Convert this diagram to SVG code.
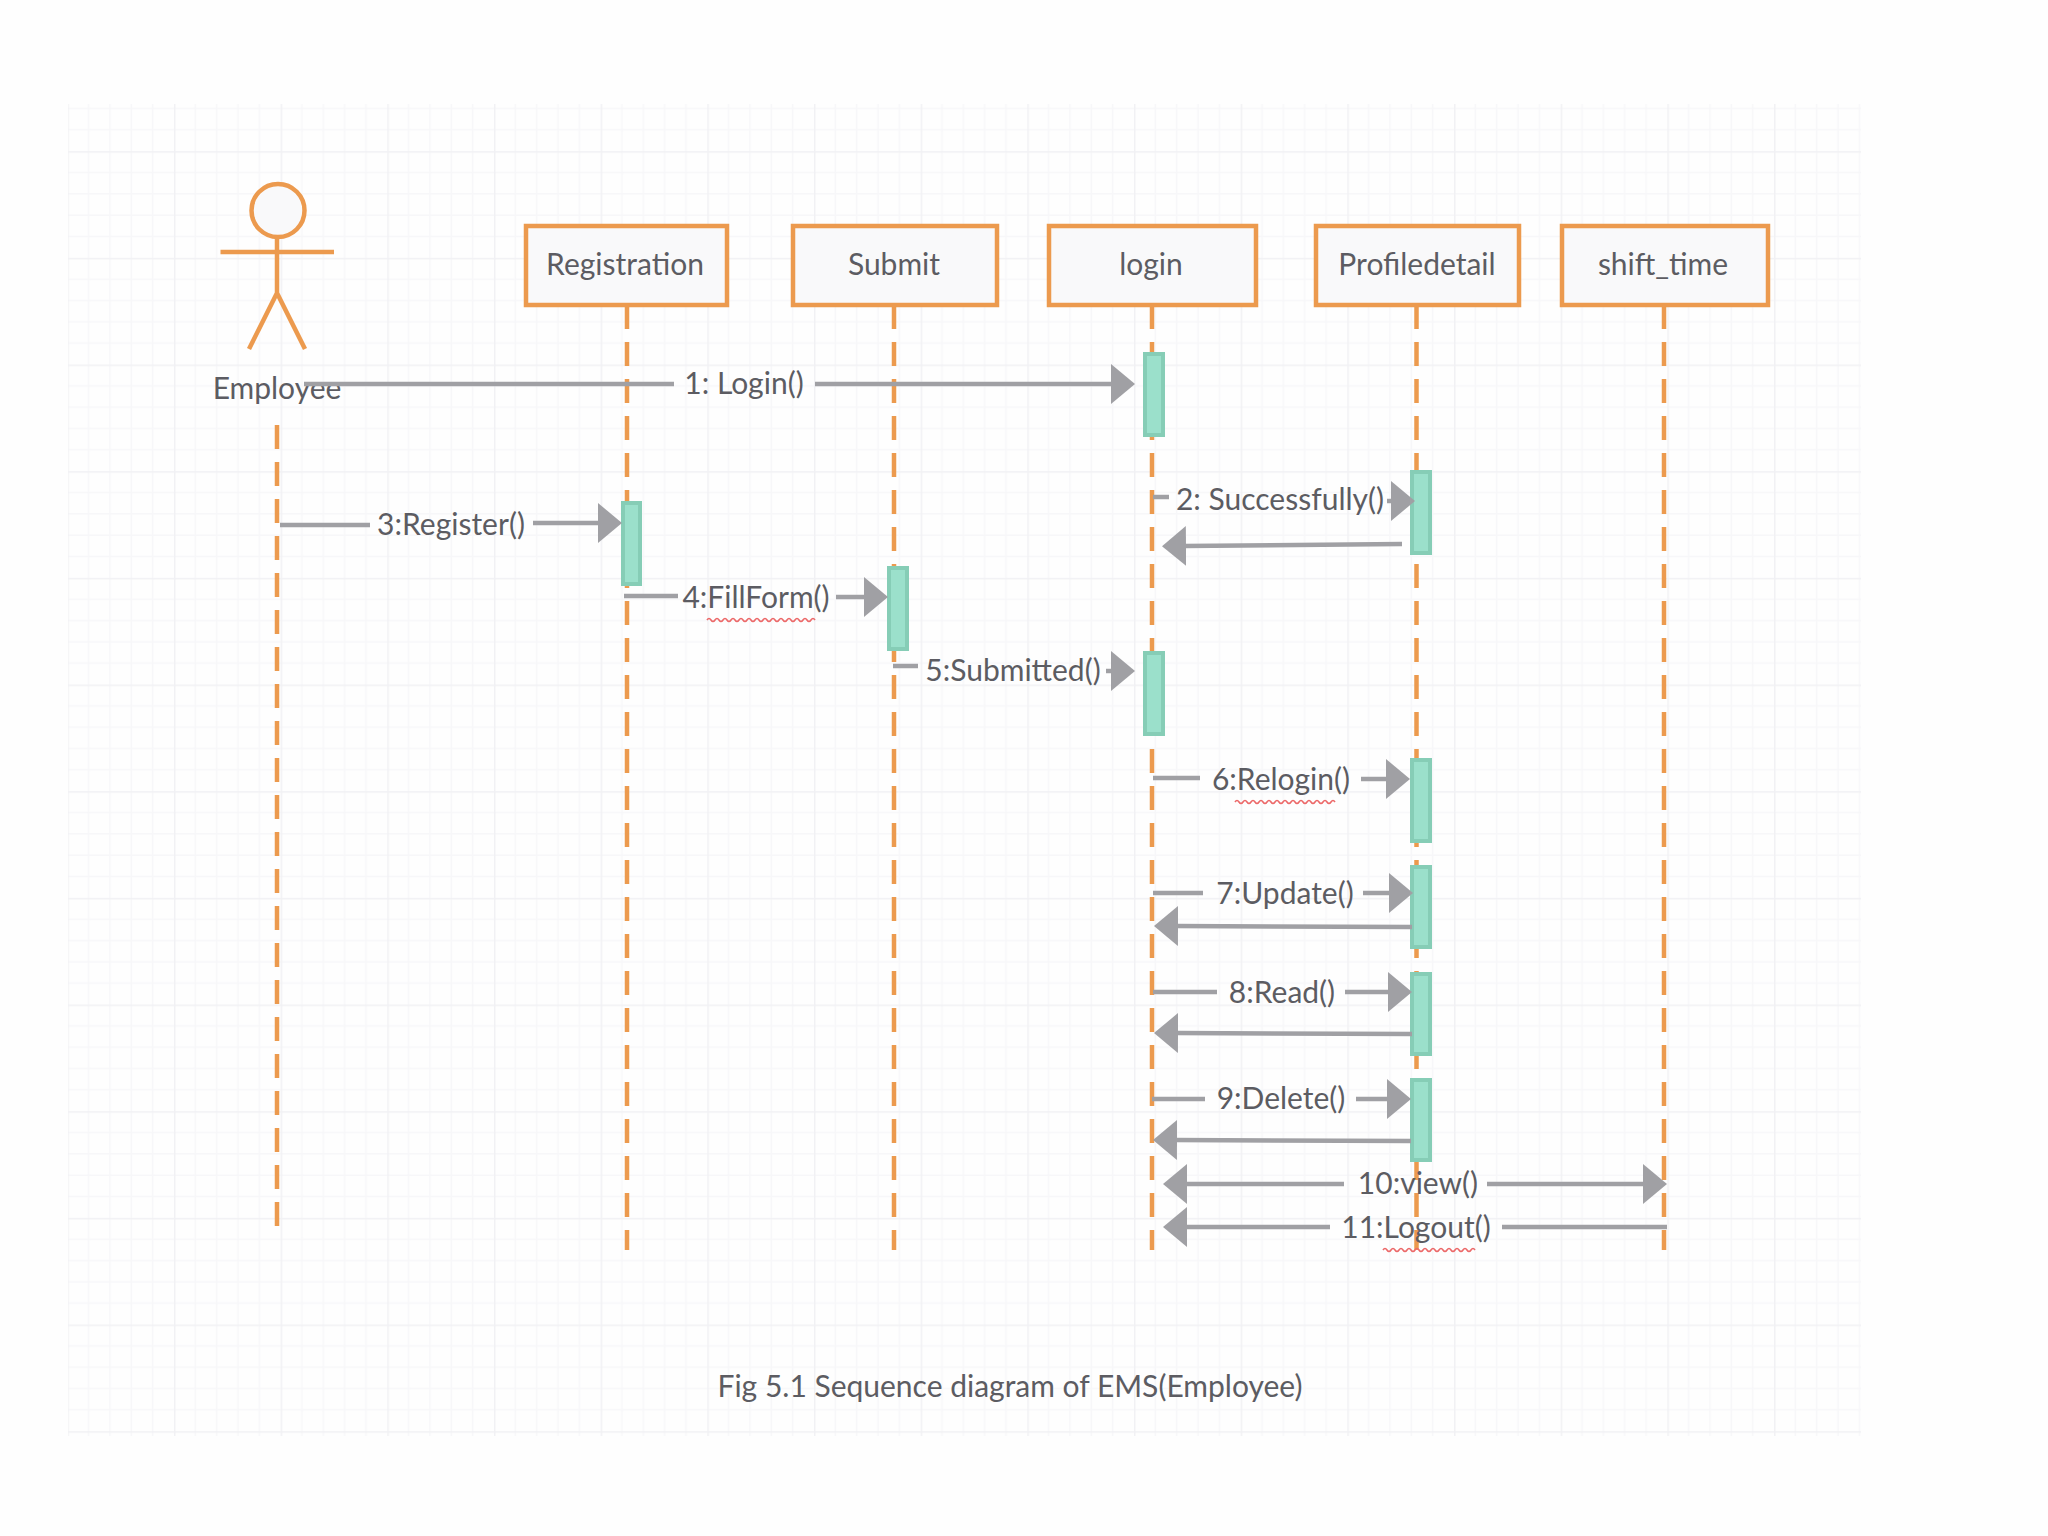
<svg xmlns="http://www.w3.org/2000/svg" width="2048" height="1536" viewBox="0 0 2048 1536">
<style>
text{font-family:"Lato","Liberation Sans",sans-serif;font-size:30px;fill:#5c5c62;text-anchor:middle}
.box{fill:#f9f9fa;stroke:#ec9a4e;stroke-width:4.5}
.actor{fill:none;stroke:#ec9a4e;stroke-width:4.5}
.life{fill:none;stroke:#ec9a4e;stroke-width:4.5;stroke-dasharray:24 13}
.act{fill:#9be0cb;stroke:#86cdb6;stroke-width:4}
.msg{fill:none;stroke:#a0a0a4;stroke-width:4.5}
.arr{marker-end:url(#head)}
.sq{fill:none;stroke:#ec6a6a;stroke-width:1.6}
</style>
<defs>
<pattern id="grid" patternUnits="userSpaceOnUse" x="67.3" y="44.5" width="106.67" height="106.67">
<path d="M21.33 0V106.67M42.67 0V106.67M64 0V106.67M85.33 0V106.67M0 21.33H106.67M0 42.67H106.67M0 64H106.67M0 85.33H106.67" fill="none" stroke="#f7f7f9" stroke-width="1.5"/>
<path d="M0.7 0V106.67M0 0.7H106.67" fill="none" stroke="#f1f1f4" stroke-width="1.6"/>
</pattern>
<marker id="head" markerUnits="userSpaceOnUse" markerWidth="26" markerHeight="42" viewBox="0 -21 26 42" refX="2" refY="0" orient="auto">
<path d="M0,-20L24,0L0,20Z" fill="#a0a0a4"/>
</marker>
</defs>
<rect width="2048" height="1536" fill="#fefefe"/>
<rect id="grid-bg" x="68" y="104" width="1793" height="1332" fill="url(#grid)"/>
<g id="lifelines">
<path class="life" d="M277 425V1227"/>
<path class="life" d="M627 305V1250"/>
<path class="life" d="M894 305V1250"/>
<path class="life" d="M1152 305V1250"/>
<path class="life" d="M1416.500 305V1250"/>
<path class="life" d="M1664 305V1250"/>
</g>
<g id="node-employee">
<circle cx="278" cy="210.500" r="26.500" fill="#f9f9fa" stroke="#ec9a4e" stroke-width="4.5"/>
<path class="actor" d="M277 237V293M220.500 252H334M277 293L249 349M277 293L305 349"/>
<text x="277" y="399">Employee</text>
</g>
<g id="node-registration"><rect class="box" x="526" y="226" width="201" height="79"/><text x="625" y="275">Registration</text></g>
<g id="node-submit"><rect class="box" x="793" y="226" width="204" height="79"/><text x="894" y="275">Submit</text></g>
<g id="node-login"><rect class="box" x="1049" y="226" width="207" height="79"/><text x="1151" y="275">login</text></g>
<g id="node-profiledetail"><rect class="box" x="1316" y="226" width="203" height="79"/><text x="1417" y="275">Profiledetail</text></g>
<g id="node-shift-time"><rect class="box" x="1562" y="226" width="206" height="79"/><text x="1663" y="275">shift_time</text></g>
<g id="activations">
<rect class="act" x="1145" y="354" width="18" height="81"/>
<rect class="act" x="1412" y="472" width="18" height="81"/>
<rect class="act" x="623" y="503" width="17" height="81"/>
<rect class="act" x="889" y="568" width="18" height="81"/>
<rect class="act" x="1145" y="653" width="18" height="81"/>
<rect class="act" x="1412" y="760" width="18" height="81"/>
<rect class="act" x="1412" y="867" width="18" height="80"/>
<rect class="act" x="1412" y="974" width="18" height="80"/>
<rect class="act" x="1412" y="1080" width="18" height="80"/>
</g>
<g id="connectors">
<path class="msg" d="M304 384H674"/><path class="msg arr" d="M815 384H1113"/>
<path class="msg" d="M1153 497H1169"/><path class="msg arr" d="M1387 501H1393"/>
<path class="msg arr" d="M1402 544L1184 546"/>
<path class="msg" d="M280 525H370"/><path class="msg arr" d="M533 523H600"/>
<path class="msg" d="M624 596H678"/><path class="msg arr" d="M836 597H866"/>
<path class="msg" d="M893 666H918"/><path class="msg arr" d="M1106 671H1113"/>
<path class="msg" d="M1153 778H1200"/><path class="msg arr" d="M1361 779H1388"/>
<path class="msg" d="M1153 893H1203"/><path class="msg arr" d="M1363 893H1391"/>
<path class="msg arr" d="M1412 927L1176 926"/>
<path class="msg" d="M1153 992H1217"/><path class="msg arr" d="M1345 992H1390"/>
<path class="msg arr" d="M1412 1034L1176 1033"/>
<path class="msg" d="M1152 1099H1205"/><path class="msg arr" d="M1356 1099H1389"/>
<path class="msg arr" d="M1411 1141L1175 1140"/>
<path class="msg arr" d="M1344 1184H1185"/><path class="msg arr" d="M1487 1184H1645"/>
<path class="msg arr" d="M1330 1227H1185"/><path class="msg" d="M1502 1227H1667"/>
</g>
<g id="labels">
<text x="744" y="394">1: Login()</text>
<text x="1280" y="510">2: Successfully()</text>
<text x="451" y="535">3:Register()</text>
<text x="756" y="608">4:FillForm()</text>
<text x="1013" y="681">5:Submitted()</text>
<text x="1281" y="790">6:Relogin()</text>
<text x="1285" y="904">7:Update()</text>
<text x="1282" y="1003">8:Read()</text>
<text x="1281" y="1109">9:Delete()</text>
<text x="1418" y="1194">10:view()</text>
<text x="1416" y="1238">11:Logout()</text>
<text x="1010" y="1397">Fig 5.1 Sequence diagram of EMS(Employee)</text>
</g>
<g id="spell-marks">
<path class="sq" d="M707 620q2,-3 4,0t4,0t4,0t4,0t4,0t4,0t4,0t4,0t4,0t4,0t4,0t4,0t4,0t4,0t4,0t4,0t4,0t4,0t4,0t4,0t4,0t4,0t4,0t4,0t4,0t4,0t4,0"/>
<path class="sq" d="M1235 802q2,-3 4,0t4,0t4,0t4,0t4,0t4,0t4,0t4,0t4,0t4,0t4,0t4,0t4,0t4,0t4,0t4,0t4,0t4,0t4,0t4,0t4,0t4,0t4,0t4,0t4,0"/>
<path class="sq" d="M1383 1250q2,-3 4,0t4,0t4,0t4,0t4,0t4,0t4,0t4,0t4,0t4,0t4,0t4,0t4,0t4,0t4,0t4,0t4,0t4,0t4,0t4,0t4,0t4,0t4,0"/>
</g>
</svg>
